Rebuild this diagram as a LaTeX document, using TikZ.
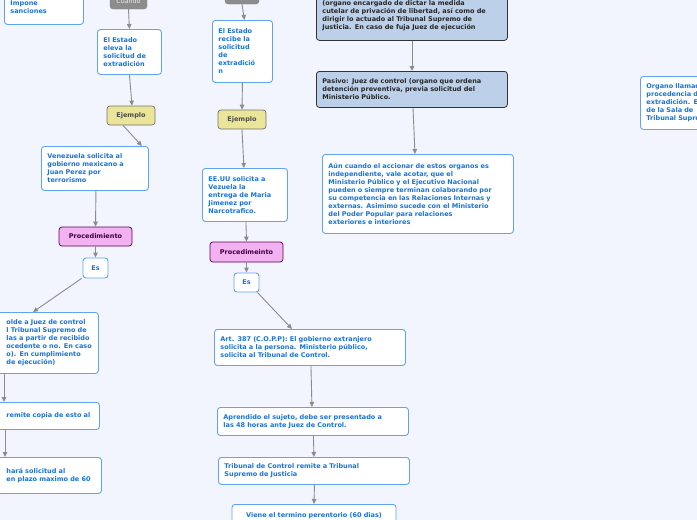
\documentclass[tikz,border=0pt]{standalone}
\usepackage{fontspec}
\setmainfont{DejaVu Sans}
\usetikzlibrary{arrows.meta}
\definecolor{bg}{HTML}{F2F5FE}
\definecolor{tblue}{HTML}{1874D8}
\definecolor{bblue}{HTML}{5FA4F0}
\definecolor{arr}{HTML}{8C8C8C}
\definecolor{dfill}{HTML}{BCD0EA}
\tikzset{
 base/.style={anchor=north west, rounded corners=3pt, inner xsep=6pt, inner ysep=3pt, font=\fontsize{6.5}{8}\selectfont\bfseries, align=left},
 bbox/.style={base, draw=bblue, line width=0.9pt, fill=white, text=tblue},
 dbox/.style={base, draw=black!80, line width=0.8pt, fill=dfill, text=black!85},
 ybox/.style={base, align=center, draw=black!55, line width=0.7pt, fill=yellow!45!olive!35, text=black!70},
 pbox/.style={base, align=center, draw=violet!70!black, line width=0.7pt, fill=violet!35!magenta!30, text=violet!50!black},
 gbox/.style={base, align=center, draw=gray, fill=gray!90, text=white!85!gray, font=\fontsize{6.3}{8}\selectfont},
 conn/.style={draw=arr, line width=0.9pt, -{Triangle[length=5pt,width=4.5pt]}},
}
\begin{document}
\begin{tikzpicture}[x=1pt,y=-1pt]
\useasboundingbox (0,0) rectangle (697,520);
\clip (0,0) rectangle (697,520);
\fill[bg] (0,0) rectangle (697,520);
\def\bx#1#2#3#4#5#6#7{\node[#1, minimum width=#5-#3, minimum height=#6-#4, text width=#5-#3-12] (#2) at (#3,#4) {#7};}
% left column
\bx{bbox}{a0}{4}{-14}{83}{24}{\\Impone\\sanciones}
\node[gbox, anchor=center, minimum width=37, minimum height=16] (a1) at (128.5,1) {Cuando};
\bx{bbox}{a2}{97}{29}{161}{74}{El Estado\\eleva la\\solicitud de\\extradición}
\node[ybox, anchor=center, minimum width=48, minimum height=19] (a3) at (131,115.5) {Ejemplo};
\bx{bbox}{a4}{41}{146}{148}{190}{Venezuela solicita al\\gobierno mexicano a\\Juan Perez por\\terrorismo}
\node[pbox, anchor=center, minimum width=73, minimum height=19] (a5) at (95.5,236.5) {Procedimiento};
\node[bbox, anchor=center, align=center, minimum width=25, minimum height=20, text width=13] (a6) at (95.5,268) {Es};
\node[bbox, minimum width=108, minimum height=61, text width=96, inner xsep=0pt, xshift=-10pt] (a7) at (0,312) {\hspace*{10pt}olde a Juez de control\\\hspace*{10pt}l Tribunal Supremo de\\\hspace*{10pt}las a partir de recibido\\\hspace*{10pt}ocedente o no. En caso\\\hspace*{10pt}o). En cumplimiento\\\hspace*{10pt}de ejecución)};
\node[bbox, minimum width=109, minimum height=27, text width=97, inner xsep=0pt, xshift=-10pt] (a8) at (0,402) {\hspace*{10pt}remite copia de esto al\\};
\node[bbox, minimum width=111, minimum height=36, text width=99, inner xsep=0pt, xshift=-10pt] (a9) at (0,457) {\hspace*{10pt}hará solicitud al\\\hspace*{10pt}en plazo maximo de 60\\};
% middle column
\node[gbox, anchor=center, minimum width=34, minimum height=14] (b1) at (242,-3) {};
\bx{bbox}{b2}{212}{20}{272}{82}{El Estado\\recibe la\\solicitud\\de\\extradició\\n}
\node[ybox, anchor=center, minimum width=48, minimum height=19] (b3) at (242,119.5) {Ejemplo};
\bx{bbox}{b4}{202}{168}{287}{221}{EE.UU solicita a\\Vezuela la\\entrega de Maria\\Jimenez por\\Narcotrafico.}
\node[pbox, anchor=center, minimum width=73, minimum height=20] (b5) at (246.5,252) {Procedimeinto};
\node[bbox, anchor=center, align=center, minimum width=25, minimum height=19, text width=13] (b6) at (246.5,282.5) {Es};
\bx{bbox}{b7}{214}{329}{405}{365}{Art. 387 (C.O.P.P): El gobierno extranjero\\solicita a la persona. Ministerio público,\\solicita al Tribunal de Control.}
\bx{bbox}{b8}{217}{407}{408}{435}{Aprendido el sujeto, debe ser presentado a\\las 48 horas ante Juez de Control.}
\bx{bbox}{b9}{218}{457}{409}{484}{Tribunal de Control remite a Tribunal\\Supremo de Justicia}
\node[bbox, anchor=north, align=center, minimum width=164, minimum height=22, text width=152] (b10) at (314,504) {Viene el termino perentorio (60 dias)\\};
% right column
\bx{dbox}{c1}{316}{-12}{507}{40}{\\(organo encargado de dictar la medida\\cutelar de privación de libertad, así como de\\dirigir lo actuado al Tribunal Supremo de\\Justicia. En caso de fuja Juez de ejecución}
\bx{dbox}{c2}{316}{71}{507}{107}{Pasivo: Juez de control (organo que ordena\\detención preventiva, previa solicitud del\\Ministerio Público.}
\bx{bbox}{c3}{322}{154}{513}{233}{Aún cuando el accionar de estos organos es\\independiente, vale acotar, que el\\Ministerio Público y el Ejecutivo Nacional\\pueden o siempre terminan colaborando por\\su competencia en las Relaciones Internas y\\externas. Asimimo sucede con el Ministerio\\del Poder Popular para relaciones\\exteriores e interiores}
\node[bbox, minimum width=80, minimum height=53, text width=80] (d1) at (640,76) {Organo llamado a\\procedencia de la\\extradición. Es\\de la Sala de\\Tribunal Supremo};
% connectors
\draw[conn] (a1.south) -- (a2.north);
\draw[conn] (a2.south) -- ([xshift=1pt]a3.north);
\draw[conn] ([xshift=-8pt]a3.south) -- ([xshift=-7pt]a4.north east|-a4.north) ;
\draw[conn] ([xshift=1pt]a4.south) -- (a5.north);
\draw[conn] (a5.south) -- (a6.north);
\draw[conn] ([xshift=-1pt]a6.south west) -- ([xshift=43pt]a7.north west);
\draw[conn] ([xshift=14pt]a7.south west) -- ([xshift=14pt]a8.north west);
\draw[conn] ([xshift=15pt]a8.south west) -- ([xshift=15pt]a9.north west);
\draw[conn] (b1.south) -- ([xshift=2pt]b2.north);
\draw[conn] (b2.south) -- (b3.north);
\draw[conn] (b3.south) -- ([xshift=-1pt]b4.north);
\draw[conn] ([xshift=1pt]b4.south) -- (b5.north);
\draw[conn] (b5.south) -- (b6.north);
\draw[conn] ([xshift=-2pt]b6.south east) -- ([xshift=78pt]b7.north west);
\draw[conn] ([xshift=1pt]b7.south) -- ([xshift=-1pt]b8.north);
\draw[conn] ([xshift=0.5pt]b8.south) -- (b9.north);
\draw[conn] ([xshift=0.5pt]b9.south) -- (b10.north);
\draw[conn] ([xshift=96pt]c1.south west) -- ([xshift=96pt]c2.north west);
\draw[conn] ([xshift=97pt]c2.south west) -- ([xshift=93pt]c3.north west);
\end{tikzpicture}
\end{document}
